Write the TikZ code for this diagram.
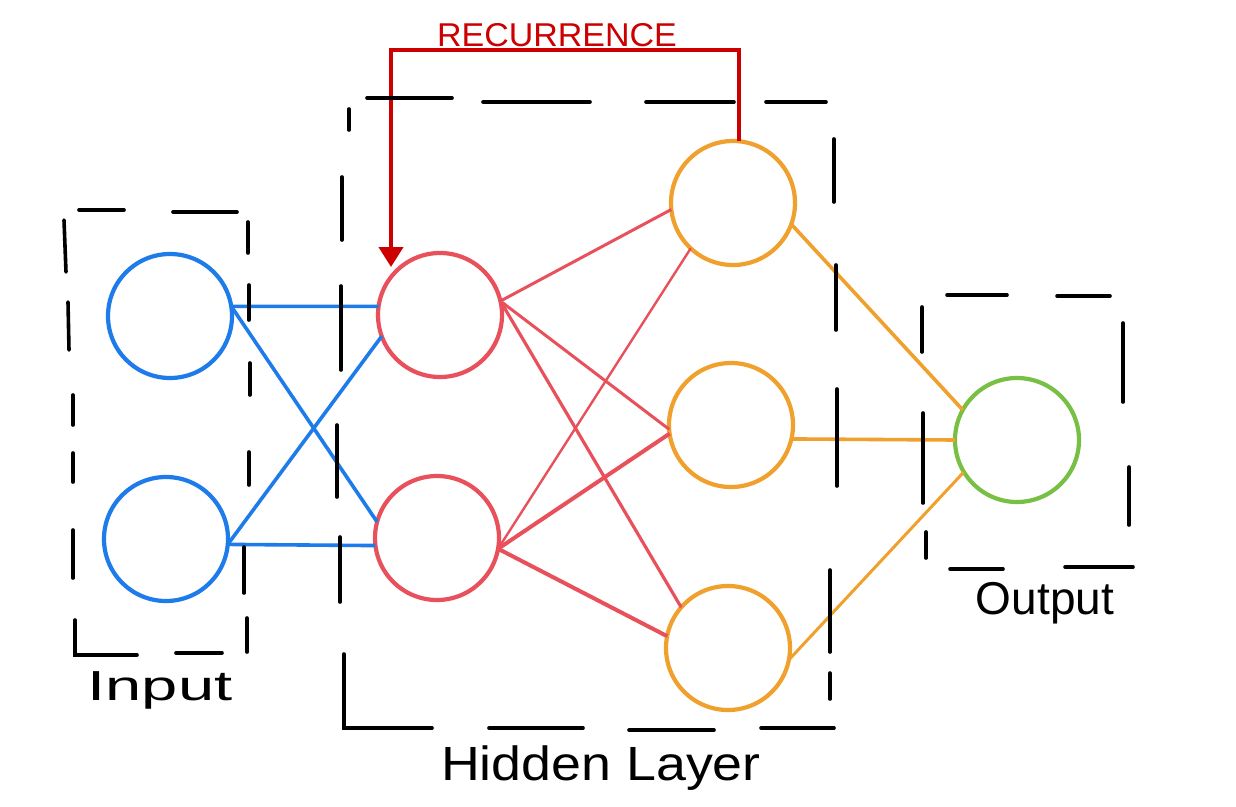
\documentclass[tikz,border=0pt]{standalone}
\usepackage{fontspec}
\setmainfont{Liberation Sans}
\usetikzlibrary{arrows.meta}
\definecolor{nblue}{HTML}{1E7BEA}
\definecolor{nred}{HTML}{E8505B}
\definecolor{norange}{HTML}{F0A02C}
\definecolor{ngreen}{HTML}{78C043}
\definecolor{ndark}{HTML}{CC0000}
\tikzset{
  neuron/.style={circle, minimum size=124pt, inner sep=0pt, outer sep=0pt, line width=4.2pt},
  bluelink/.style={nblue, line width=3.6pt},
  redlink/.style={nred, line width=3pt},
  orangelink/.style={norange, line width=3.6pt},
  recur/.style={ndark, line width=4pt, -{Triangle[width=24pt,length=20pt]}},
  dashseg/.style={line width=3.6pt, line cap=round},
  hand/.style={font=\fontsize{42}{50}\selectfont, inner sep=0pt}
}
\begin{document}
\begin{tikzpicture}[x=1pt,y=-1pt]
\useasboundingbox (0,0) rectangle (1236,806);
% neurons
\node[neuron, draw=nblue] (i1) at (170,316) {};
\node[neuron, draw=nblue] (i2) at (166,539) {};
\node[neuron, draw=nred] (h1) at (440,315) {};
\node[neuron, draw=nred] (h2) at (437,538) {};
\node[neuron, draw=norange] (o1) at (733,203) {};
\node[neuron, draw=norange] (o2) at (731,425) {};
\node[neuron, draw=norange] (o3) at (728,648) {};
\node[neuron, draw=ngreen] (g) at (1017,440) {};
% blue links
\draw[bluelink] (i1.9) -- (h1.172);
\draw[bluelink] (i1.9) -- (h2.165);
\draw[bluelink] (i2.-5) -- (h1.200);
\draw[bluelink] (i2.-5) -- (h2.187);
% red links
\draw[redlink] (h1.13) -- (o1.186);
\draw[redlink] (h1.13) -- (o2.184);
\draw[redlink, line width=3.2pt] (h1.13) -- (o3.139);
\draw[redlink, line width=2.4pt] (h2.-10) -- (o1.227);
\draw[redlink, line width=4pt] (h2.-10) -- (o2.188);
\draw[redlink, line width=4pt] (h2.-10) -- (o3.169);
% orange links
\draw[orangelink] (o1.-20) -- (g.151);
\draw[orangelink] (o2.-13) -- (g.180);
\draw[orangelink, line width=3pt] (o3.-11) -- (g.211);
% recurrence
\coordinate (rcorner) at (391,50);
\coordinate (rtip) at (391,267);
\draw[recur] (o1.84) |- (rcorner) -- (rtip);
\node[ndark, font=\fontsize{33}{38}\selectfont, xscale=1.03, inner sep=0pt] (rlabel) at (557,35) {RECURRENCE};
% labels
\node[hand, xscale=1.55] (linput) at (160,690) {Input};
\node[hand, font=\fontsize{48}{56}\selectfont, xscale=1.12] (lhidden) at (601,768) {Hidden Layer};
\node[hand, font=\fontsize{46}{54}\selectfont] (loutput) at (1045,603) {Output};
% dashed box: input
\draw[dashseg] (79,210) -- (124,210);
\draw[dashseg] (173,212) -- (237,212);
\draw[dashseg] (64,220) -- (66,272);
\draw[dashseg] (68,302) -- (69,350);
\draw[dashseg] (73,395) -- (73,425);
\draw[dashseg] (73,453) -- (73,482);
\draw[dashseg] (73,530) -- (73,578);
\draw[dashseg] (75,620) -- (75,655) -- (137,655);
\draw[dashseg] (176,653) -- (222,653);
\draw[dashseg] (248,222) -- (248,253);
\draw[dashseg] (249,285) -- (249,320);
\draw[dashseg] (250,363) -- (250,395);
\draw[dashseg] (249,452) -- (249,485);
\draw[dashseg] (244,547) -- (244,593);
\draw[dashseg] (247,618) -- (247,652);
% dashed box: hidden
\draw[dashseg] (367,98) -- (452,98);
\draw[dashseg] (483,102) -- (590,102);
\draw[dashseg] (646,102) -- (734,102);
\draw[dashseg] (766,102) -- (826,102);
\draw[dashseg] (349,109) -- (349,130);
\draw[dashseg] (342,177) -- (342,240);
\draw[dashseg] (341,286) -- (341,370);
\draw[dashseg] (337,425) -- (337,497);
\draw[dashseg] (340,537) -- (340,602);
\draw[dashseg] (344,654) -- (344,728) -- (432,728);
\draw[dashseg] (489,728) -- (583,728);
\draw[dashseg] (629,730) -- (714,730);
\draw[dashseg] (761,728) -- (834,728);
\draw[dashseg] (834,139) -- (834,202);
\draw[dashseg] (836,265) -- (836,330);
\draw[dashseg] (837,389) -- (837,486);
\draw[dashseg] (830,570) -- (830,652);
\draw[dashseg] (830,673) -- (830,699);
% dashed box: output
\draw[dashseg] (947,295) -- (1007,295);
\draw[dashseg] (1057,296) -- (1110,296);
\draw[dashseg] (922,307) -- (922,352);
\draw[dashseg] (923,413) -- (923,503);
\draw[dashseg] (926,532) -- (926,558);
\draw[dashseg] (1123,323) -- (1123,402);
\draw[dashseg] (1129,467) -- (1129,525);
\draw[dashseg] (950,569) -- (1003,569);
\draw[dashseg] (1065,567) -- (1133,567);
\end{tikzpicture}
\end{document}
